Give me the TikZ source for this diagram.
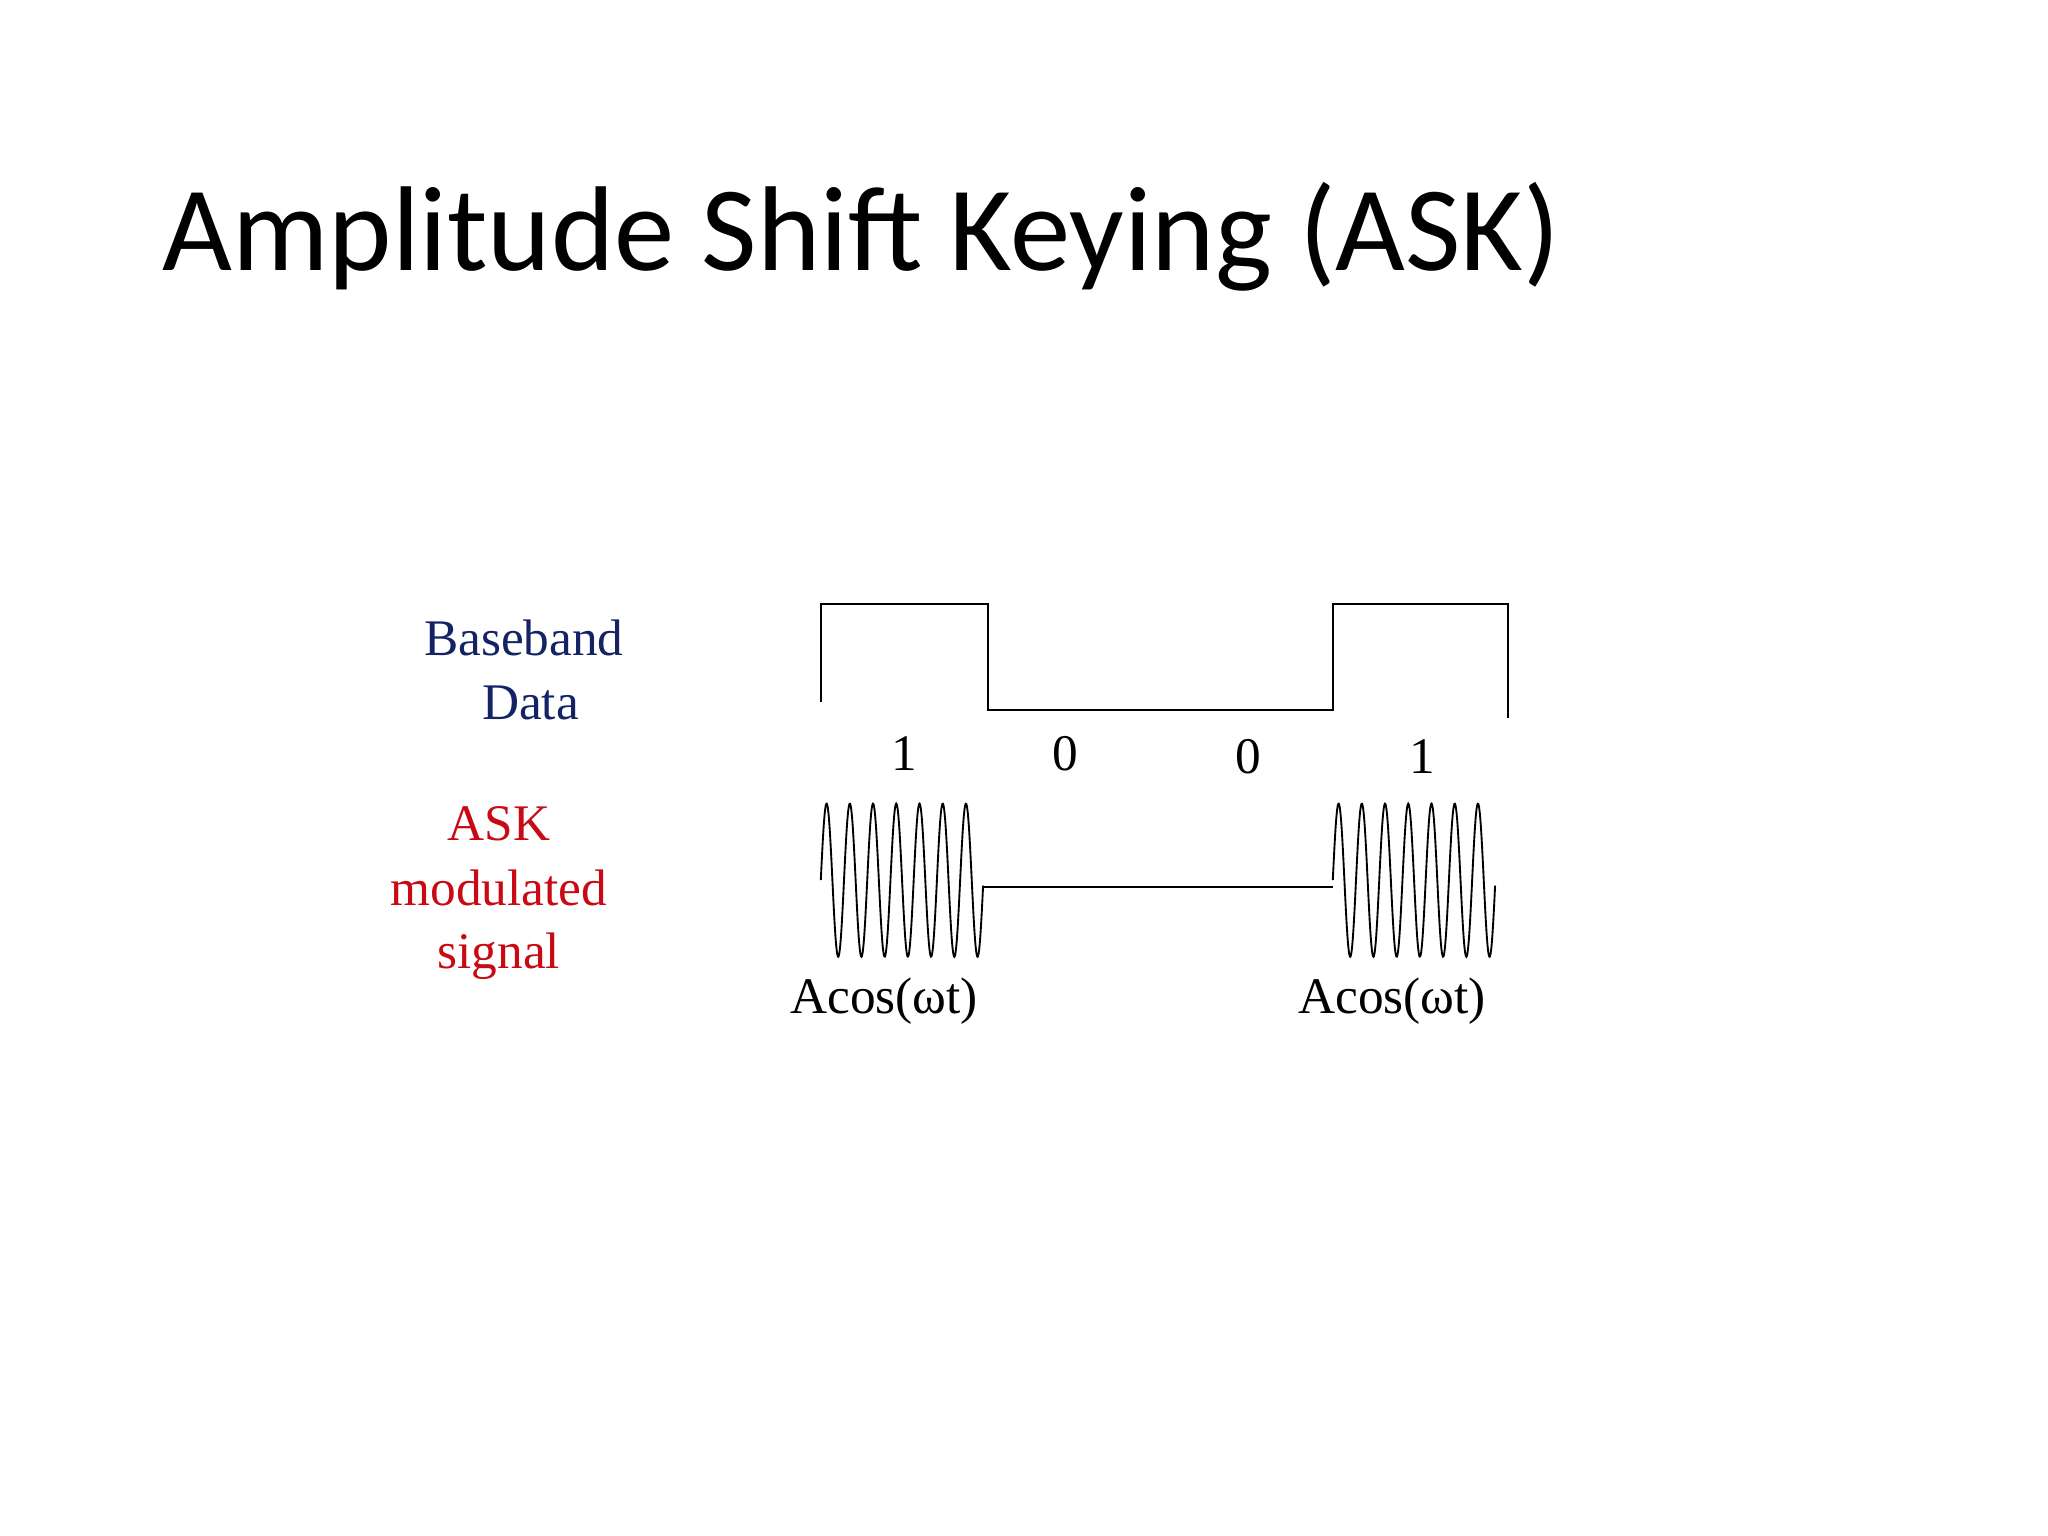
\documentclass[tikz,border=0pt]{standalone}
\usepackage{fontspec}
\setmainfont{Liberation Serif}
\newfontfamily\titlefont{Carlito}
\definecolor{navy}{RGB}{20,35,100}
\definecolor{askred}{RGB}{200,10,20}
\tikzset{lbl/.style={font=\fontsize{38.5}{44}\selectfont, inner sep=0pt, align=center},
 sig/.style={line width=1.4pt, black}}
\begin{document}
\begin{tikzpicture}[x=0.99pt,y=-0.99pt]
\useasboundingbox[fill=white] (0,0) rectangle (1552,1164);
\node[anchor=base west, inner sep=0pt, font=\titlefont\fontsize{90.5}{100}\selectfont] (title) at (123,205) {Amplitude Shift Keying (ASK)};
% baseband
\draw[sig] (622,532) -- (622,458) -- (749,458) -- (749,538) -- (1010,538) -- (1010,458) -- (1143,458) -- (1143,544);
\node[lbl, anchor=base] (d1) at (685,584) {1};
\node[lbl, anchor=base] (d2) at (807,584) {0};
\node[lbl, anchor=base] (d3) at (946,586) {0};
\node[lbl, anchor=base] (d4) at (1078,586) {1};
% ASK
\draw[sig] plot[domain=0:123, samples=300] ({622+\x}, {667-58*sin(\x*20.4545)});
\draw[sig] ({622+123},{667-58*sin(123*20.4545)}) -- (745,672) -- (1010,672);
\draw[sig] plot[domain=0:123, samples=300] ({1010+\x}, {667-58*sin(\x*20.4545)});
\node[lbl, anchor=base] (a1) at (670,768) {Acos(ωt)};
\node[lbl, anchor=base] (a2) at (1055,768) {Acos(ωt)};
% side labels
\node[lbl, text=navy, anchor=base] (bb) at (397,497) {Baseband};
\node[lbl, text=navy, anchor=base] (dd) at (402,545) {Data};
\node[lbl, text=askred, anchor=base] (s1) at (378,637) {ASK};
\node[lbl, text=askred, anchor=base] (s2) at (378,686) {modulated};
\node[lbl, text=askred, anchor=base] (s3) at (378,734) {signal};
\end{tikzpicture}
\end{document}
